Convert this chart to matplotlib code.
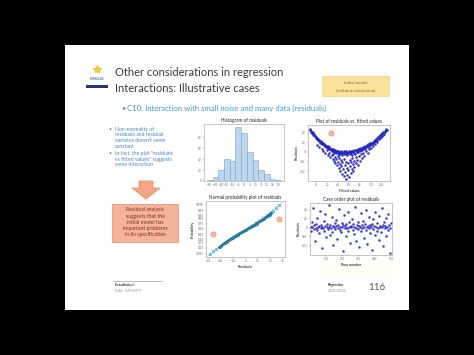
import numpy as np
import matplotlib
matplotlib.use("Agg")
import matplotlib.pyplot as plt
from matplotlib.patches import Rectangle, FancyBboxPatch, Polygon

plt.rcParams['font.family'] = ['Lato', 'DejaVu Sans']

W, H = 474, 355

# ---- data ----
hist_centers = [-30, -25, -20, -15, -10, -5, 0, 5, 10, 15, 20, 25, 30]
hist_counts = [2, 7, 20, 40, 36, 99, 88, 53, 38, 20, 12, 4, 1]

fit_x = [-12, -11, -10, -9, -8, -7, -6, -5, -4, -3, -2, -1, 0, 1, 2, 3, 4, 5, 6, 7, 8, 9, 10,
         11, 12, 13, 14, 15, 16, 17, 18, 19, 20, 21, 22, 23, 24, 25, 26, 27, 28, 29, 30, 31, 32,
         33, 34, 35, 36, 37, 38, 39, 40, 41, 42, 43, 44, 45, 46, 47, 48, 49, 50, 51, 52, 53, 54,
         55, 56, 57, 58, 59, 60, 61, 62, 63, 64, 65, 66, 67, 68, 69, 70, 71, 72, 73, 74, 75, 76,
         77, 78, 79, 80, 81, 82, 83, 84, 85, 86, 87, 88, 89, 90, 91, 92, 93, 94, 95, 96, 97, 98,
         99, 100, 101, 102, 103, 104, 105, 106, 107, 108, 109, 110, 111, 112, 113, 114, 115, 116,
         117, 118, 119, 120, 121, 122, 123, 124, 125, 126, 127, 128, 129,
         2, 6, 10, 13, 16, 19, 21, 24, 26, 28, 30, 31, 33, 34, 35, 37, 38, 39, 40, 41, 42, 43, 44,
         45, 46, 47, 48, 49, 50, 51, 52, 53, 54, 55, 56, 57, 58, 59, 60, 61, 62, 63, 64, 65, 66,
         67, 68, 69, 70, 72, 73, 75, 76, 78, 80, 82, 84, 86, 88, 91, 94, 97, 100, 104, 108, 112]
fit_res = [46, 44, 41, 43, 39, 38, 40, 34, 36, 32, 33, 29, 31, 27, 28, 24, 26, 22, 25, 19, 21,
           22, 17, 19, 16, 18, 13, 15, 12, 14, 9, 12, 10, 8, 11, 6, 9, 5, 8, 3, 6, 1, 5, 2, 4, -1,
           3, 0, 2, -3, 1, -2, 2, -5, 0, -1, -4, 1, -2, -6, 0, -3, 1, -5, -1, 0, -4, 1, -2, -7, 0,
           -3, 1, -5, 0, 2, -3, 1, -6, 2, 0, -2, 3, -4, 2, 4, -1, 3, 5, 0, 4, 6, 2, 7, 4, 8, 3, 9,
           6, 10, 8, 11, 6, 12, 10, 13, 9, 15, 12, 16, 13, 18, 15, 19, 16, 21, 18, 23, 20, 24, 22,
           26, 23, 28, 25, 30, 27, 32, 29, 34, 31, 36, 33, 38, 35, 40, 37, 42, 40, 45, 47, 44,
           14, 10, 5, 1, -2, 3, -6, -3, -10, -7, -14, -4, -18, -10, -24, -15, -28, -8, -20, -33,
           -12, -26, -40, -17, -30, -45, -22, -36, -50, -14, -28, -42, -55, -20, -34, -48, -24,
           -38, -52, -16, -30, -44, -22, -36, -12, -40, -26, -18, -32, -10, -24, -16, -28, -8,
           -18, -4, -12, -2, -8, 2, -3, 5, 8, 12, 15, 20]

norm_res = [-28.5, -26.0, -23.5, -21.0, -19.5, -18.0, -16.5, -15.0, -13.5, -12.0, -10.5, -9.0,
            -7.5, -6.0, -4.5, -3.0, -1.5, 0.0, 1.5, 3.0, 4.5, 6.0, 7.5, 9.0, 10.5, 12.0, 13.5,
            15.0, 16.5, 18.0, 19.5, 21.0, 22.5, 24.5, 27.0]
norm_z = [-3.1, -2.8, -2.55, -2.3, -2.1, -1.92, -1.75, -1.58, -1.42, -1.27, -1.12, -0.98, -0.84,
          -0.70, -0.56, -0.43, -0.30, -0.17, -0.04, 0.10, 0.24, 0.38, 0.52, 0.67, 0.82, 0.97,
          1.12, 1.28, 1.45, 1.62, 1.80, 2.00, 2.25, 2.6, 3.0]
prob_labels = ['0.001', '0.01', '0.05', '0.10', '0.25', '0.50',
               '0.75', '0.90', '0.95', '0.99', '0.999']
prob_z = [-3.09, -2.33, -1.64, -1.28, -0.67, 0.0, 0.67, 1.28, 1.64, 2.33, 3.09]

case_rows = [4, 8, 11, 15, 19, 23, 27, 30, 34, 38, 42, 46, 49, 53, 57, 61, 65, 68, 72, 76, 80,
             84, 87, 91, 95, 99, 103, 106, 110, 114, 118, 122, 125, 129, 133, 137, 141, 144, 148,
             152, 156, 160, 163, 167, 171, 175, 179, 182, 186, 190, 194, 198, 201, 205, 209, 213,
             217, 220, 224, 228, 232, 236, 239, 243, 247, 251, 255, 258, 262, 266, 270, 274, 277,
             281, 285, 289, 293, 296, 300, 304, 308, 312, 315, 319, 323, 327, 331, 334, 338, 342,
             346, 350, 353, 357, 361, 365, 369, 372, 376, 380, 384, 388, 391, 395, 399, 403, 407,
             410, 414, 418, 422, 426, 429, 433, 437, 441, 445, 448, 452, 456, 460, 464, 467, 471,
             475, 479, 483, 486, 490, 494, 498]
case_res = [3, -8, 12, 1, 45, -2, 6, -30, 0, 9, -4, 22, 2, -12, 5, 38, -1, 7, -45, 3, 0, 15, -6,
            4, 30, -20, 1, 8, -3, 50, 2, -15, 6, 0, 25, -9, 4, -38, 1, 10, -2, 18, 5, -25, 0, 7,
            42, -5, 3, -10, 11, 1, -52, 6, 28, -1, 4, -18, 9, 0, 35, -7, 2, 14, -33, 5, 1, 20, -4,
            8, -14, 3, 47, 0, -28, 6, 12, -2, 4, -42, 1, 33, -8, 7, 0, 16, -22, 3, 9, -5, 40, 2,
            -35, 5, 0, 24, -11, 6, 1, -48, 8, 19, -3, 4, 36, -16, 2, 10, -6, 0, 27, -26, 5, 3, -9,
            44, 1, -40, 7, 13, -1, 4, 21, -19, 2, 31, -4, 6, -55, 0, 11]
n_case = min(len(case_rows), len(case_res))


def rect(x0, y0, x1, y1):
    return [x0 / W, 1 - y1 / H, (x1 - x0) / W, (y1 - y0) / H]


def style(ax, title):
    for s in ax.spines.values():
        s.set_color('#9a9a9a')
        s.set_linewidth(0.4)
    ax.tick_params(labelsize=2.2, length=1, width=0.3, pad=0.8, colors='#666666')
    ax.set_title(title, fontsize=3.3, pad=1.5, color='#222222')


fig = plt.figure(figsize=(W / 100, H / 100), dpi=100)
fig.patch.set_facecolor('black')

bg = fig.add_axes([0, 0, 1, 1])
bg.set_xlim(0, W)
bg.set_ylim(H, 0)
bg.axis('off')
bg.add_patch(Rectangle((65, 45), 344, 265, facecolor='white', edgecolor='none'))
bg.add_patch(FancyBboxPatch((320, 263), 74, 14, boxstyle='round,pad=2',
                            facecolor='#fefef3', edgecolor='none'))

# logo
bg.plot(97, 69, marker='*', ms=6, color='#f5d65a', mec='#ecc43a')
bg.text(97, 79, 'COMILLAS', fontsize=2.2, color='#24407a', ha='center', va='center')
bg.add_patch(Rectangle((86, 85), 22, 3, facecolor='#1f3a73', edgecolor='none'))

# titles
bg.text(115, 73, 'Other considerations in regression', fontsize=8.0, color='#3a3a3a',
        va='center')
bg.text(115, 88, 'Interactions: Illustrative cases', fontsize=8.0, color='#3a3a3a',
        va='center')
bg.add_patch(FancyBboxPatch((323, 77), 66, 19, boxstyle='round,pad=0.5',
                            facecolor='#fbe29c', edgecolor='#f2d27a', linewidth=0.5))
bg.text(356, 83, 'Initial model', fontsize=3.2, color='#8a6a24', ha='center', va='center')
bg.text(356, 90, '(without interaction)', fontsize=3.2, color='#8a6a24', ha='center',
        va='center')
bg.text(121, 108, '•', fontsize=5, color='#3a9ad6', va='center')
bg.text(127, 108, 'C10: Interaction with small noise and many data (residuals)', fontsize=5.6,
        color='#3a9ad6', va='center')

# left bullets
left_lines = [(129, 'Non-normality of', True), (135, 'residuals and residual', False),
              (141, "variance doesn't seem", False), (147, 'constant', False),
              (153, 'In fact, the plot "residuals', True), (159, 'vs fitted values" suggests', False),
              (165, 'some interaction', False)]
for yy, txt, bullet in left_lines:
    if bullet:
        bg.text(108, yy, '•', fontsize=3.7, color='#4a84c6', va='center')
    bg.text(115, yy, txt, fontsize=3.7, color='#4a84c6', va='center')

bg.add_patch(Polygon([(139, 181), (153, 181), (153, 188), (160, 188), (146, 199), (132, 188),
                      (139, 188)], closed=True, facecolor='#f4a586', edgecolor='#e6875f',
                     linewidth=0.5))
bg.add_patch(Rectangle((112, 204), 66, 38, facecolor='#f6b39b', edgecolor='#e48a68',
                       linewidth=0.5))
box_lines = ['Residual analysis', 'suggests that the', 'initial model has',
             'important problems', 'in its specification']
for i, txt in enumerate(box_lines):
    bg.text(145, 210 + i * 6.1, txt, fontsize=3.7, color='#7a3020', ha='center', va='center')

# footer
bg.plot([113, 162], [281, 281], color='#888888', lw=0.4)
bg.text(115, 285, 'Estadística I', fontsize=2.6, color='#333333', va='center', weight='bold')
bg.text(115, 290.5, 'ICAI - GITI/GITT', fontsize=2.6, color='#888888', va='center')
bg.text(328, 285, 'Regresión', fontsize=2.6, color='#333333', va='center', weight='bold')
bg.text(328, 290.5, '2025/2026', fontsize=2.6, color='#888888', va='center')
bg.text(368, 287, '116', fontsize=7, color='#555555', va='center')

# histogram of residuals
ax1 = fig.add_axes(rect(204, 124, 284, 181))
ax1.bar(hist_centers, hist_counts, width=5, color='#bcd6ee', edgecolor='#7d9fc4', linewidth=0.4)
ax1.set_xlim(-35, 35)
ax1.set_ylim(0, 104)
ax1.set_xticks(hist_centers)
ax1.set_yticks([0, 20, 40, 60, 80])
style(ax1, 'Histogram of residuals')

# residuals vs fitted values
ax2 = fig.add_axes(rect(308, 125, 390, 181))
ax2.plot(fit_x, fit_res, 'o', ms=1.5, mfc='#2a2ad0', mec='#1a1aa0', mew=0.2)
ax2.set_xlim(-15, 135)
ax2.set_ylim(-60, 55)
ax2.set_xticks([0, 20, 40, 60, 80, 100, 120])
ax2.set_yticks([-40, -20, 0, 20, 40])
ax2.set_xlabel('Fitted values', fontsize=2.6, labelpad=0.8)
ax2.set_ylabel('Residuals', fontsize=2.6, labelpad=0.8)
style(ax2, 'Plot of residuals vs. fitted values')

# normal probability plot
ax3 = fig.add_axes(rect(206, 201, 285, 257))
ax3.plot([-31, 31], [-3.4, 3.4], '--', color='#8fd4f0', lw=0.6)
ax3.plot(norm_res[3:-3], norm_z[3:-3], '-', color='#1d5a78', lw=1.8)
ax3.plot(norm_res, norm_z, 'o', ms=1.0, color='#2b7fa6')
ax3.plot(norm_res[:3] + norm_res[-3:], norm_z[:3] + norm_z[-3:], 'o', ms=1.0, color='#6cc8ea')
ax3.set_xlim(-32, 32)
ax3.set_ylim(-3.5, 3.5)
ax3.set_xticks([-30, -20, -10, 0, 10, 20, 30])
ax3.set_yticks(prob_z)
ax3.set_yticklabels(prob_labels)
ax3.set_xlabel('Residuals', fontsize=2.6, labelpad=0.8)
ax3.set_ylabel('Probability', fontsize=2.6, labelpad=0.8)
style(ax3, 'Normal probability plot of residuals')

# case order plot
ax4 = fig.add_axes(rect(310, 203, 392, 255))
ax4.plot(case_rows[:n_case], case_res[:n_case], 'o', ms=1.5, mfc='#3a3ad8', mec='#1a1aa0',
         mew=0.2)
ax4.set_xlim(0, 505)
ax4.set_ylim(-60, 55)
ax4.set_xticks([100, 200, 300, 400, 500])
ax4.set_yticks([-40, -20, 0, 20, 40])
ax4.set_xlabel('Row number', fontsize=2.6, labelpad=0.8)
ax4.set_ylabel('Residuals', fontsize=2.6, labelpad=0.8)
style(ax4, 'Case order plot of residuals')

# small highlight blobs drawn over the plots
top = fig.add_axes([0, 0, 1, 1])
top.set_xlim(0, W)
top.set_ylim(H, 0)
top.axis('off')
top.patch.set_alpha(0)
top.scatter([331, 213, 279], [133, 234, 219], s=15, marker='o', color='#f4b6a0',
            edgecolors='#e8927a', linewidths=0.4)

fig.savefig('out.png', dpi=100, facecolor='black')
